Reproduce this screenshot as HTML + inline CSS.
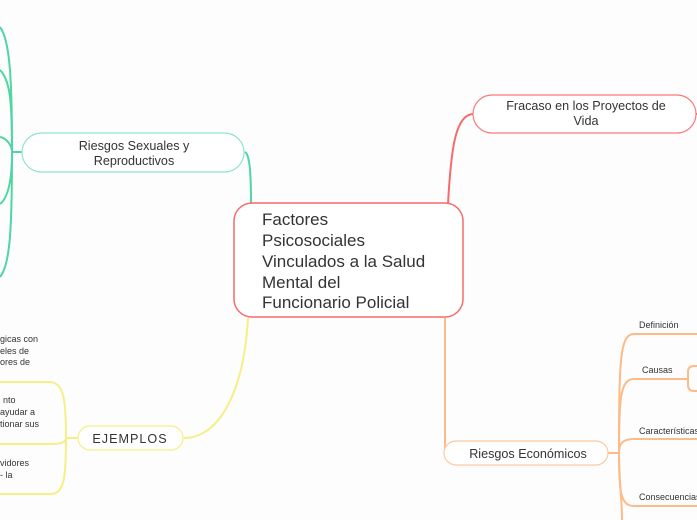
<!DOCTYPE html>
<html><head><meta charset="utf-8"><style>
html,body{margin:0;padding:0;background:#fdfdfd;}
svg{display:block;}
text{font-family:"Liberation Sans",sans-serif;fill:#333;}
</style></head><body>
<svg width="697" height="520" viewBox="0 0 697 520" xmlns="http://www.w3.org/2000/svg">
<rect width="697" height="520" fill="#fdfdfd"/>
<!-- green branch -->
<g fill="none" stroke="#4fd6a4" stroke-width="2">
<path d="M251 205 C251 175 250 155 245 152"/>
<path d="M22 152 L12 152"/>
<path d="M12 152 C12 80 10 40 0 27"/>
<path d="M12 152 C12 100 10 80 0 70"/>
<path d="M12 152 C12 145 6 138 0 137"/>
<path d="M12 152 C12 180 8 198 0 204"/>
<path d="M12 152 C12 230 10 265 0 277"/>
</g>
<rect x="22" y="133" width="222" height="39" rx="19.5" fill="#fff" stroke="#8fe6c6" stroke-width="1.2"/>
<text x="134" y="150" font-size="12.6" text-anchor="middle">Riesgos Sexuales y</text>
<text x="134" y="165" font-size="12.6" text-anchor="middle">Reproductivos</text>

<!-- red branch -->
<path d="M448 204 C451 150 455 115 473 114" fill="none" stroke="#f76b6b" stroke-width="2"/>
<path d="M696 114 L697 114" stroke="#f76b6b" stroke-width="2"/>
<rect x="473" y="95" width="223" height="38" rx="19" fill="#fff" stroke="#f87b7b" stroke-width="1.2"/>
<text x="586" y="110" font-size="12.6" text-anchor="middle">Fracaso en los Proyectos de</text>
<text x="586" y="125" font-size="12.6" text-anchor="middle">Vida</text>

<!-- yellow branch -->
<g fill="none" stroke="#f6ef86" stroke-width="2">
<path d="M248 318 C244 390 220 438 184 438"/>
<path d="M78 438 L66 438"/>
<path d="M66 438 C66 400 64 383 50 382 L0 382"/>
<path d="M66 438 C66 442 62 444 52 444 L0 444"/>
<path d="M66 438 C66 480 64 494 50 494 L0 494"/>
</g>
<rect x="78" y="426" width="105" height="24" rx="12" fill="#fff" stroke="#f6ef86" stroke-width="1.2"/>
<text x="130" y="443" font-size="12.6" text-anchor="middle" letter-spacing="1">EJEMPLOS</text>
<g font-size="9">
<text x="0" y="342">gicas con</text>
<text x="0" y="354">eles de</text>
<text x="0" y="365">ores de</text>
<text x="3" y="403">nto</text>
<text x="0" y="415">ayudar a</text>
<text x="0" y="427">tionar sus</text>
<text x="0" y="466">vidores</text>
<text x="0" y="478">- la</text>
</g>

<!-- orange branch -->
<g fill="none" stroke="#fdbb8a" stroke-width="2">
<path d="M445 318 L445 453"/>
<path d="M608 453 L619 453"/>
<path d="M619 453 C619 360 620 334 634 334 L697 334"/>
<path d="M619 453 C619 400 620 379 634 379 L680 379"/>
<path d="M619 453 C619 444 622 439 634 439 L697 439"/>
<path d="M619 453 C619 490 620 506 634 506 L697 506"/>
<path d="M619 453 C619 480 622 500 622 520"/>
<path d="M697 366 L694 366 C690 366 688 368 688 372 L688 385 C688 389 690 391 694 391 L697 391"/>
<path d="M680 379 L688 379"/>
</g>
<rect x="444" y="441" width="164" height="24" rx="12" fill="#fff" stroke="#fdc9a3" stroke-width="1.2"/>
<text x="528" y="458" font-size="12.6" text-anchor="middle">Riesgos Económicos</text>
<g font-size="9">
<text x="639" y="328">Definición</text>
<text x="642" y="373">Causas</text>
<text x="639" y="434">Características</text>
<text x="639" y="500">Consecuencias</text>
</g>

<!-- central -->
<rect x="234" y="203" width="229" height="114" rx="18" fill="#fff" stroke="#f76b6b" stroke-width="1.5"/>
<g font-size="17">
<text x="262" y="225">Factores</text>
<text x="262" y="246">Psicosociales</text>
<text x="262" y="267">Vinculados a la Salud</text>
<text x="262" y="288">Mental del</text>
<text x="262" y="308">Funcionario Policial</text>
</g>
</svg>
</body></html>
